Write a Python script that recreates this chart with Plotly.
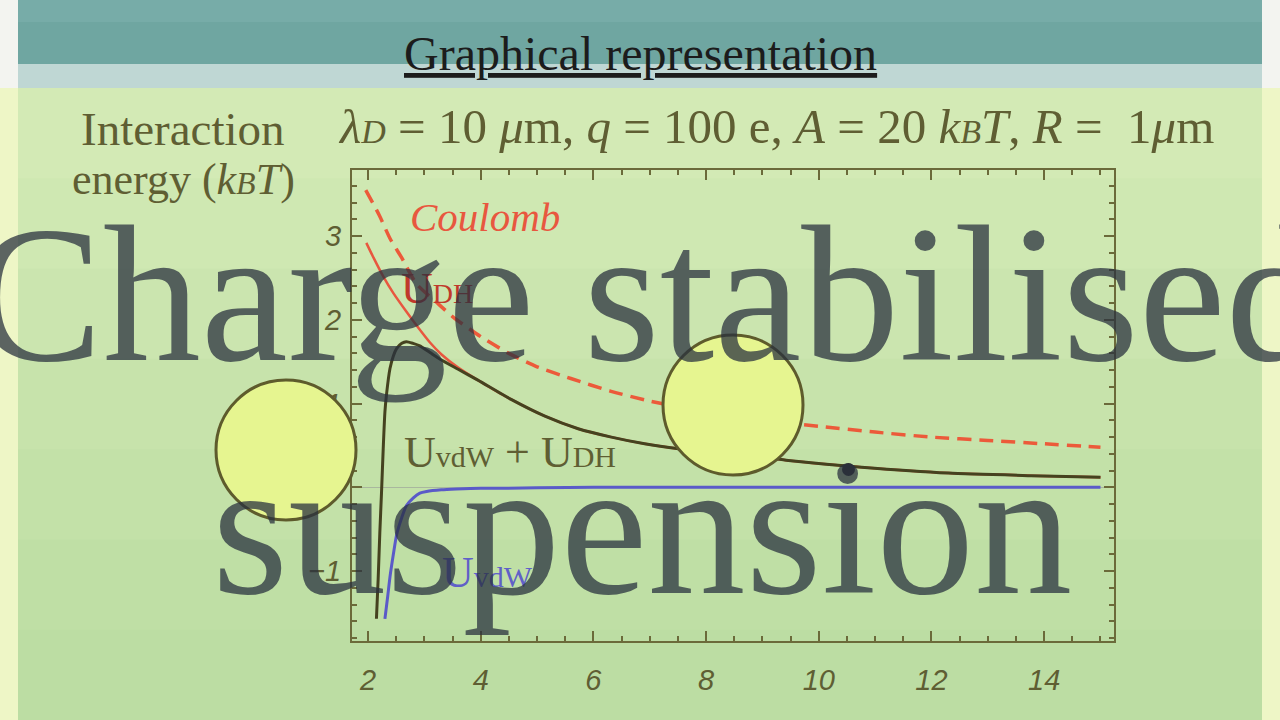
import plotly.graph_objects as go

# ---------------- data ----------------
# Coulomb (dashed red)
x_coulomb = [1.96, 2.2, 2.4, 2.6, 2.86, 3.2, 3.5, 4.0, 4.5, 5.0, 5.6, 6.3, 7.0, 8.0, 9.0, 10.0, 11.0, 12.0, 13.0, 14.0, 15.0]
y_coulomb = [3.55, 3.25, 2.96, 2.74, 2.43, 2.22, 2.04, 1.80, 1.60, 1.44, 1.30, 1.15, 1.03, 0.90, 0.80, 0.73, 0.66, 0.60, 0.56, 0.52, 0.48]

# Debye-Hueckel (solid red)
x_dh = [1.97, 2.1, 2.27, 2.45, 2.68, 2.9, 3.1, 3.3, 3.6, 3.95, 4.54, 5.14, 5.73, 6.32, 6.91, 7.51, 8.2, 9.0, 9.46, 10.76, 12.3, 13.77, 15.0]
y_dh = [2.92, 2.74, 2.52, 2.32, 2.10, 1.90, 1.73, 1.59, 1.43, 1.28, 1.05, 0.85, 0.70, 0.60, 0.52, 0.46, 0.41, 0.36, 0.32, 0.24, 0.17, 0.14, 0.12]

# van der Waals (blue)
x_vdw = [2.30, 2.35, 2.39, 2.45, 2.51, 2.6, 2.68, 2.8, 2.92, 3.04, 3.3, 3.57, 4.0, 4.46, 5.0, 6.0, 8.0, 10.0, 12.0, 15.0]
y_vdw = [-1.57, -1.30, -1.07, -0.80, -0.56, -0.36, -0.22, -0.13, -0.07, -0.05, -0.03, -0.02, -0.01, -0.01, -0.005, 0.0, 0.0, 0.0, 0.0, 0.0]

# total U_vdW + U_DH (dark olive)
x_total = [2.15, 2.18, 2.21, 2.24, 2.27, 2.30, 2.33, 2.39, 2.45, 2.51, 2.6, 2.68, 2.8, 2.92, 3.1, 3.28, 3.6, 3.95, 4.54, 5.14, 5.73, 6.32, 6.91, 7.51, 8.2, 9.0, 9.46, 10.76, 12.3, 13.77, 15.0]
y_total = [-1.57, -1.10, -0.54, -0.06, 0.46, 0.90, 1.12, 1.42, 1.57, 1.66, 1.72, 1.74, 1.72, 1.69, 1.61, 1.53, 1.41, 1.28, 1.05, 0.85, 0.70, 0.60, 0.52, 0.46, 0.41, 0.36, 0.32, 0.24, 0.17, 0.14, 0.12]

x_range = [1.716, 15.24]
y_range = [-1.835, 3.79]
x_tickvals = [2, 4, 6, 8, 10, 12, 14]
y_tickvals = [-1, 0, 1, 2, 3]

# ---------------- page geometry ----------------
L, T, W, H = 352, 170, 762, 471  # plot area in pixels


def xp(px):
    return (px - L) / W


def yp(py):
    return (T + H - py) / H


OLIVE = '#5f5e33'
AXIS = '#6b6a3a'
RED = '#e8573f'

fig = go.Figure()
fig.add_trace(go.Scatter(x=x_dh, y=y_dh, mode='lines',
                         line=dict(color=RED, width=2.5, shape='spline', smoothing=0.7)))
fig.add_trace(go.Scatter(x=x_coulomb, y=y_coulomb, mode='lines',
                         line=dict(color='#ec5a3a', width=3.5, dash='14px,8px', shape='spline', smoothing=0.7)))
fig.add_trace(go.Scatter(x=x_vdw, y=y_vdw, mode='lines',
                         line=dict(color='#5a5ac8', width=3, shape='spline', smoothing=0.7)))
fig.add_trace(go.Scatter(x=x_total, y=y_total, mode='lines',
                         line=dict(color='#45421f', width=3, shape='spline', smoothing=0.6)))


def rect(x0, x1, y0, y1, color, layer='below'):
    return dict(type='rect', xref='paper', yref='paper', x0=xp(x0), x1=xp(x1), y0=yp(y1), y1=yp(y0),
                fillcolor=color, line_width=0, layer=layer)


shapes = []
# slide background
shapes.append(rect(0, 1280, 0, 720, '#eef6c6'))
shapes.append(rect(0, 1280, 0, 88, '#f3f4f0'))
body_cols = ['#d3eab5', '#cfe8b2', '#cbe5af', '#c7e3ab', '#c3e1a8', '#bfdfa5', '#bcdda3']
n = len(body_cols)
for i, c in enumerate(body_cols):
    y0 = 88 + (720 - 88) * i / n
    y1 = 88 + (720 - 88) * (i + 1) / n + 1
    shapes.append(rect(18, 1262, y0, y1, c))
shapes.append(rect(18, 1262, 64, 88, '#bfd7d4'))
shapes.append(rect(18, 1262, 0, 64, '#6fa6a1'))
shapes.append(rect(18, 1262, 0, 22, '#77aca8'))

# yellow discs
for cx, cy, r in [(286, 450, 70), (733, 405, 70)]:
    shapes.append(dict(type='circle', xref='paper', yref='paper', x0=xp(cx - r), x1=xp(cx + r),
                       y0=yp(cy + r), y1=yp(cy - r), fillcolor='#e6f590',
                       line=dict(color='#5e5b2c', width=3), layer='above'))
# small dark dot
shapes.append(dict(type='circle', xref='paper', yref='paper', x0=xp(842), x1=xp(855),
                   y0=yp(476), y1=yp(463), fillcolor='#2e3030', line_width=0, layer='above'))


def ann(text, px, baseline, size, color, family='Liberation Serif', italic=False):
    cy = baseline - 0.3375 * size
    return dict(text=text, x=xp(px), y=yp(cy), xref='paper', yref='paper', showarrow=False,
                xanchor='center', yanchor='middle',
                font=dict(family=family, size=size, color=color, style='italic' if italic else 'normal'))


annotations = [
    ann('<u>Graphical representation</u>', 640, 70, 48, '#1c1c1c'),
    ann('Interaction', 183, 145, 47, OLIVE),
    ann('energy (<i>k</i><span style="font-size:32px"><i>B</i></span><i>T</i>)', 183, 194, 44, OLIVE),
    ann('<i>λ</i><span style="font-size:34px"><i>D</i></span> = 10 <i>μ</i>m, <i>q</i> = 100 e, '
        '<i>A</i> = 20 <i>k</i><span style="font-size:34px"><i>B</i></span><i>T</i>, <i>R</i> =  1<i>μ</i>m',
        776, 143, 49, OLIVE),
    ann('Coulomb', 485, 231, 41, RED, italic=True),
    ann('U<span style="font-size:28px">DH</span>', 437, 303, 44, '#c0392b'),
    ann('U<span style="font-size:30px">vdW</span> + U<span style="font-size:30px">DH</span>', 510, 467, 44, OLIVE),
    ann('U<span style="font-size:30px">vdW</span>', 487, 587, 44, '#6060c8'),
    # overlaid slide title
    ann('Charge stabilised', 648, 360, 196, 'rgba(40,48,62,0.74)'),
    ann('suspension', 642, 593, 196, 'rgba(40,48,62,0.74)'),
]

axis_common = dict(showline=True, linecolor=AXIS, linewidth=2, mirror='ticks', ticks='inside',
                   tickcolor=AXIS, tickwidth=1.5, ticklen=10, showgrid=False,
                   tickfont=dict(family='Liberation Sans', size=29, color=OLIVE, style='italic'))

fig.update_layout(
    width=1280, height=720,
    margin=dict(l=L, r=1280 - L - W, t=T, b=720 - T - H, pad=0),
    paper_bgcolor='#eef6c6', plot_bgcolor='rgba(0,0,0,0)',
    showlegend=False,
    shapes=shapes, annotations=annotations,
    xaxis=dict(range=x_range, tickvals=x_tickvals, zeroline=False, ticklabelstandoff=12,
               minor=dict(dtick=0.5, tick0=0, ticks='inside', ticklen=5, tickcolor=AXIS, tickwidth=1.5),
               **axis_common),
    yaxis=dict(range=y_range, tickvals=y_tickvals, zeroline=True, zerolinecolor='#a9b79e', zerolinewidth=1,
               ticklabelstandoff=3,
               minor=dict(dtick=0.2, tick0=0, ticks='inside', ticklen=5, tickcolor=AXIS, tickwidth=1.5),
               **axis_common),
)

fig.write_html('out.html', config={'displayModeBar': False},
               post_script="document.body.style.margin='0';document.body.style.overflow='hidden';")
